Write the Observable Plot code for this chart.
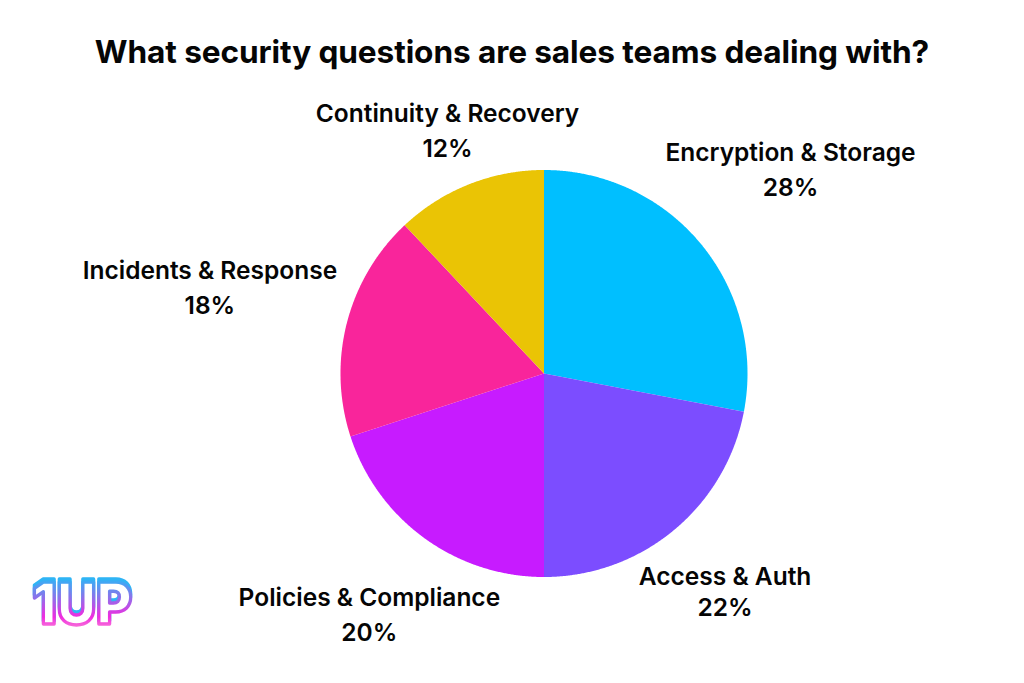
<!DOCTYPE html>
<html>
<head>
<meta charset="utf-8">
<script src="https://cdn.jsdelivr.net/npm/d3@7"></script>
<script src="https://cdn.jsdelivr.net/npm/@observablehq/plot@0.6"></script>
<style>
html,body{margin:0;padding:0;background:#fff;width:1024px;height:683px;overflow:hidden}
#title{height:80px;box-sizing:border-box;padding-top:34px;text-align:center;font:700 31.6px/36px Inter,sans-serif;color:#050505;letter-spacing:-0.1px}
svg{display:block}
</style>
</head>
<body>
<div id="title"></div>
<div id="chart"></div>
<script>
const titleText = "What security questions are sales teams dealing with?";
const categories = ["Encryption & Storage", "Access & Auth", "Policies & Compliance", "Incidents & Response", "Continuity & Recovery"];
const shares = [28, 22, 20, 18, 12];
const colors = ["#00BFFF", "#7C4DFF", "#C71BFF", "#F9259B", "#EAC405"];
const labelDistance = [1.572, 1.396, 1.46, 1.695, 1.288];
const logoText = "1UP";

document.getElementById("title").textContent = titleText;

const W = 1024, H = 603, R = 203.5, CX = 543.5, CY = 293;
const arcs = d3.pie().sort(null).value(d => d)(shares);
const polar = (a, r) => [r * Math.sin(a), r * Math.cos(a)];

const slicePoints = arcs.flatMap((arc, i) => {
  const steps = Math.ceil((arc.endAngle - arc.startAngle) / 0.005);
  const pts = [[0, 0]];
  for (let s = 0; s <= steps; s++) {
    pts.push(polar(arc.startAngle + (arc.endAngle - arc.startAngle) * s / steps, 1));
  }
  pts.push([0, 0]);
  return pts.map(([x, y]) => ({x, y, name: categories[i]}));
});

const labels = arcs.map((arc, i) => {
  const mid = (arc.startAngle + arc.endAngle) / 2;
  const [x, y] = polar(mid, labelDistance[i]);
  return {x, y, name: categories[i], text: `${categories[i]}\n${shares[i]}%`};
});

function logo() {
  const g = d3.create("svg:g");
  const grad = g.append("defs").append("linearGradient").attr("id", "logoGrad").attr("x1", 0).attr("x2", 0).attr("y1", 0).attr("y2", 1);
  grad.append("stop").attr("offset", "15%").attr("stop-color", "#2FB4F5");
  grad.append("stop").attr("offset", "70%").attr("stop-color", "#F02BE0");
  grad.append("stop").attr("offset", "100%").attr("stop-color", "#FFB9D0");
  g.append("text")
    .attr("x", 82).attr("y", 544).attr("text-anchor", "middle")
    .attr("textLength", 100).attr("lengthAdjust", "spacingAndGlyphs")
    .attr("font-family", "Inter, sans-serif").attr("font-weight", 900).attr("font-size", 58)
    .attr("fill", "#fff").attr("stroke", "url(#logoGrad)").attr("stroke-width", 3.5)
    .attr("stroke-linejoin", "round")
    .style("filter", "drop-shadow(0 -3px 0 #2FB4F5)")
    .text(logoText);
  return g.node();
}

const textStyle = {
  x: "x", y: "y", text: "text", dy: -2,
  fontFamily: "Inter, sans-serif", fontWeight: 600, fontSize: 24.5, fill: "#050505"
};

const chart = Plot.plot({
  width: W,
  height: H,
  margin: 0,
  x: {domain: [-CX / R, (W - CX) / R], range: [0, W], axis: null},
  y: {domain: [CY / R, (CY - H) / R], range: [0, H], axis: null},
  color: {domain: categories, range: colors},
  marks: [
    Plot.line(slicePoints, {x: "x", y: "y", z: "name", fill: "name", stroke: null, curve: "linear"}),
    Plot.text(labels.filter(d => d.name !== "Access & Auth"), {...textStyle, lineHeight: 1.43}),
    Plot.text(labels.filter(d => d.name === "Access & Auth"), {...textStyle, lineHeight: 1.27}),
    logo
  ]
});
document.getElementById("chart").append(chart);
</script>
</body>
</html>
